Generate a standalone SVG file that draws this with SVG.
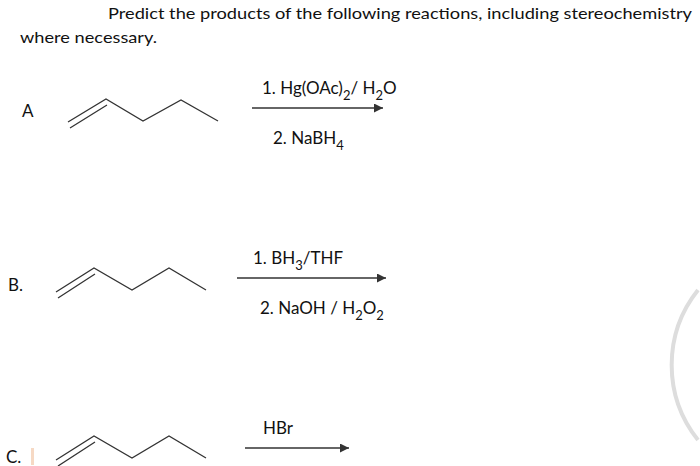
<svg xmlns="http://www.w3.org/2000/svg" width="700" height="466" viewBox="0 0 700 466">
<defs>
<marker id="ah" viewBox="0 0 10 10" refX="10" refY="5" markerWidth="16" markerHeight="9" markerUnits="userSpaceOnUse" orient="auto"><path d="M0,0 L10,5 L0,10 z" fill="#333"/></marker>
</defs>
<style>
text{font-family:Lato,"Open Sans",sans-serif;fill:#111}
.t{font-size:16px}
.r{font-size:17px}
.s{font-size:13px}
.m{fill:none;stroke:#333;stroke-width:1.3}
.a{stroke:#333;stroke-width:1.5;marker-end:url(#ah)}
</style>
<rect width="700" height="466" fill="#fff"/>
<text class="t" x="108" y="19" textLength="584" lengthAdjust="spacingAndGlyphs">Predict the products of the following reactions, including stereochemistry</text>
<text class="t" x="20" y="43" textLength="137" lengthAdjust="spacingAndGlyphs">where necessary.</text>
<path d="M698,290 A120,120 0 0 0 698,440" fill="none" stroke="#ddd" stroke-width="4"/>
<g id="A">
<text class="r" x="22" y="117">A</text>
<path class="m" d="M68,122 L106,99 L143,121 L181,100 L218,121 M70,128 L107,105"/>
</g>
<g id="B">
<text class="r" x="8" y="291">B.</text>
<path class="m" d="M56,292 L94,268 L132,290 L169,268 L206,290 M58,298 L95,274"/>
</g>
<g id="C">
<text class="r" x="6" y="463">C.</text>
<rect x="31" y="448" width="3" height="17" fill="#f6d9c4"/>
<path class="m" d="M56,460 L94,436 L132,458 L169,436 L206,458 M58,466 L95,442"/>
</g>
<g id="connectors">
<line class="a" x1="252" y1="108" x2="383" y2="108"/>
<line class="a" x1="237" y1="278" x2="386" y2="278"/>
<line class="a" x1="245" y1="448" x2="349" y2="448"/>
</g>
<g id="labels">
<text class="r" x="262" y="94">1. Hg(OAc)<tspan class="s" dy="6">2</tspan><tspan dy="-6">/ H</tspan><tspan class="s" dy="6">2</tspan><tspan dy="-6">O</tspan></text>
<text class="r" x="273" y="144">2. NaBH<tspan class="s" dy="6">4</tspan></text>
<text class="r" x="253" y="264">1. BH<tspan class="s" dy="6">3</tspan><tspan dy="-6">/THF</tspan></text>
<text class="r" x="260" y="314">2. NaOH / H<tspan class="s" dy="6">2</tspan><tspan dy="-6">O</tspan><tspan class="s" dy="6">2</tspan></text>
<text class="r" x="263" y="434">HBr</text>
</g>
</svg>
